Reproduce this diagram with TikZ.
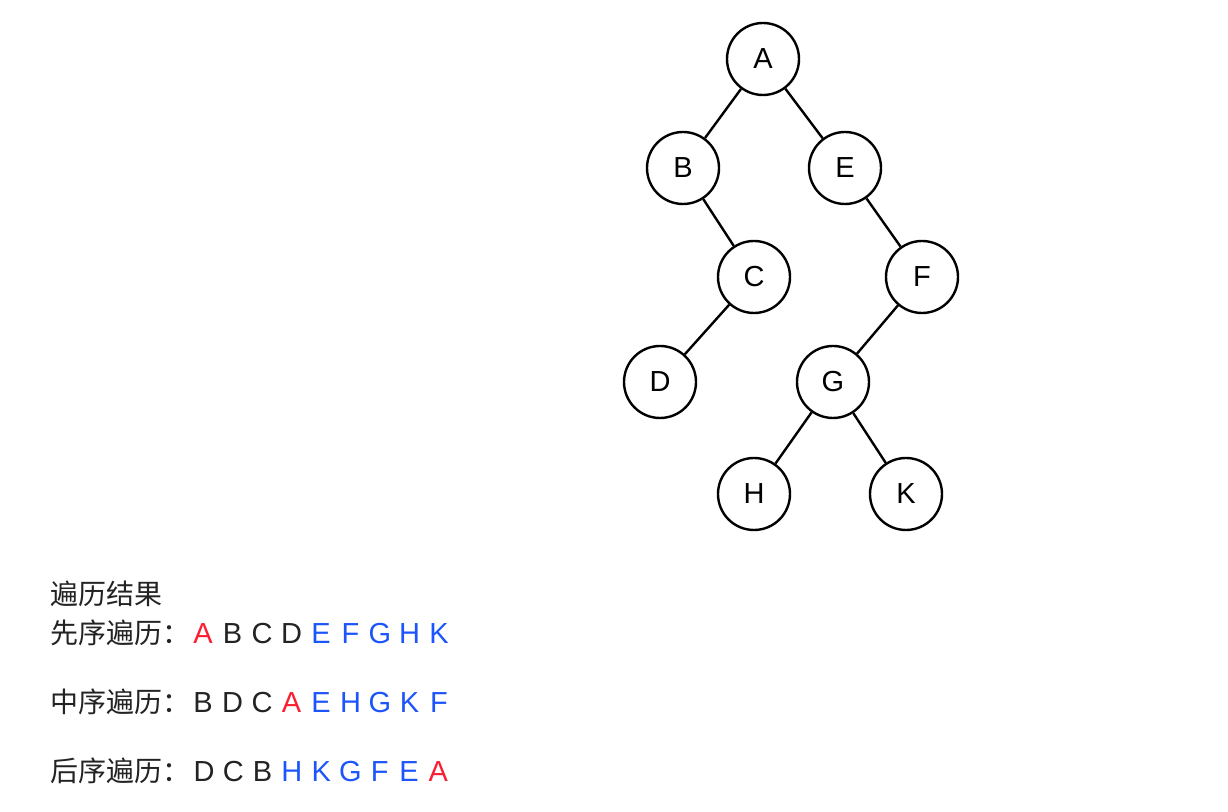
\documentclass[tikz,border=0pt]{standalone}
\usepackage{fontspec}
\setmainfont{Liberation Sans}
\newfontfamily\cjk{Noto Sans CJK SC}
\definecolor{travred}{RGB}{250,30,50}
\definecolor{travblue}{RGB}{30,85,250}
\definecolor{travdark}{RGB}{35,35,35}
\begin{document}
\begin{tikzpicture}[x=0.5pt, y=-0.5pt,
    treenode/.style={circle, draw, line width=1.2pt, minimum size=36pt, inner sep=0pt, font=\fontsize{14.5}{16}\selectfont},
    edge/.style={line width=1.2pt},
    label/.style={anchor=base west, inner sep=0pt, text=travdark, font=\cjk\fontsize{14}{16}\selectfont},
    letter/.style={anchor=base, inner sep=0pt, font=\fontsize{14.5}{16}\selectfont}]
    \useasboundingbox (0,0) rectangle (1228,812);

    % Nodes
    \node[treenode] (A) at (763,59) {A};
    \node[treenode] (B) at (683,168) {B};
    \node[treenode] (E) at (845,168) {E};
    \node[treenode] (C) at (754,277) {C};
    \node[treenode] (F) at (922,277) {F};
    \node[treenode] (D) at (660,382) {D};
    \node[treenode] (G) at (833,382) {G};
    \node[treenode] (H) at (754,494) {H};
    \node[treenode] (K) at (906,494) {K};

    % Edges
    \draw[edge] (A) -- (B);
    \draw[edge] (A) -- (E);
    \draw[edge] (B) -- (C);
    \draw[edge] (C) -- (D);
    \draw[edge] (E) -- (F);
    \draw[edge] (F) -- (G);
    \draw[edge] (G) -- (H);
    \draw[edge] (G) -- (K);

    % Results
    \node[label] (title) at (50,605) {遍历结果};
    \node[label] (pre) at (50,644) {先序遍历：};
    \node[label] (in) at (50,713) {中序遍历：};
    \node[label] (post) at (50,782) {后序遍历：};

    \foreach \l/\c [count=\i from 0] in {A/travred,B/travdark,C/travdark,D/travdark,E/travblue,F/travblue,G/travblue,H/travblue,K/travblue}
        \node[letter, text=\c] (pre\i) at (203+29.5*\i,644) {\l};
    \foreach \l/\c [count=\i from 0] in {B/travdark,D/travdark,C/travdark,A/travred,E/travblue,H/travblue,G/travblue,K/travblue,F/travblue}
        \node[letter, text=\c] (in\i) at (203+29.5*\i,713) {\l};
    \foreach \l/\c [count=\i from 0] in {D/travdark,C/travdark,B/travdark,H/travblue,K/travblue,G/travblue,F/travblue,E/travblue,A/travred}
        \node[letter, text=\c] (post\i) at (204+29.3*\i,782) {\l};
\end{tikzpicture}
\end{document}
